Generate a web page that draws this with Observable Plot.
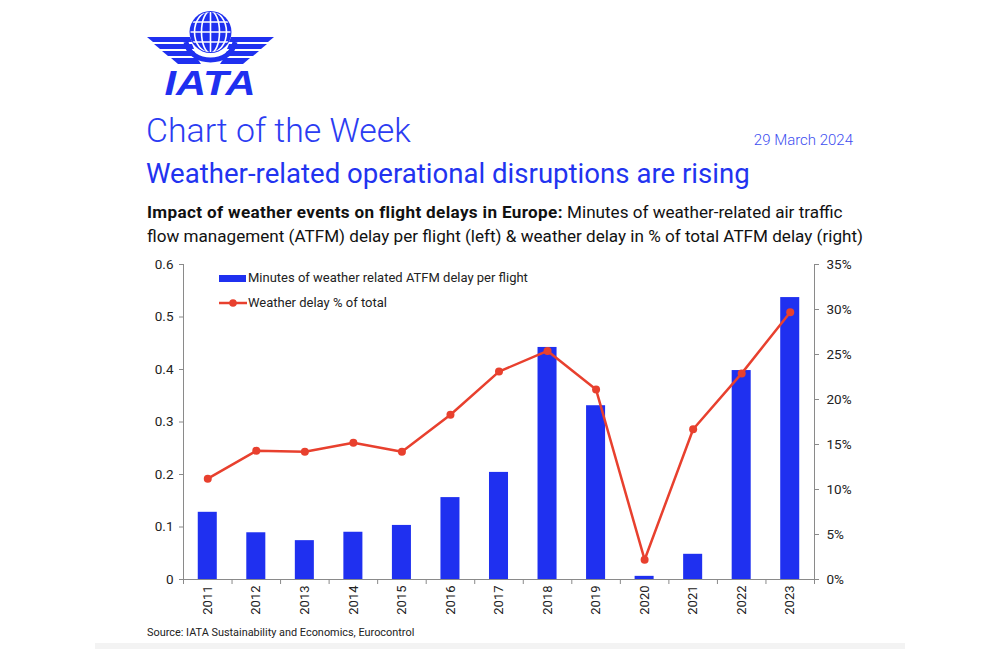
<!DOCTYPE html>
<html>
<head>
<meta charset="utf-8">
<script src="https://cdn.jsdelivr.net/npm/d3@7"></script>
<script src="https://cdn.jsdelivr.net/npm/@observablehq/plot@0.6"></script>
<style>
  html, body { margin: 0; padding: 0; background: #fff; }
  body { width: 1000px; height: 649px; position: relative; overflow: hidden; font-family: Roboto, "Noto Sans", sans-serif; }
  .abs { position: absolute; white-space: nowrap; }
  #cotw { left: 146px; top: 110px; font-size: 33.8px; font-weight: 300; color: #2b3cf2; line-height: 42px; }
  #date { right: 147px; top: 130px; font-size: 15px; font-weight: 300; color: #3d4ef0; line-height: 20px; }
  #title { left: 146px; top: 156px; font-size: 27.6px; font-weight: 400; color: #2233f0; line-height: 36px; }
  #sub { left: 147px; top: 200px; font-size: 17.1px; color: #111; line-height: 24px; }
  #sub b { font-weight: 700; letter-spacing: 0.35px; }
  #chart { position: absolute; left: 0; top: 255px; }
  .leg { font-size: 13px; color: #222; line-height: 16px; }
  #source { left: 147px; top: 626px; font-size: 10.9px; color: #222; }
  #strip { position: absolute; left: 95px; top: 643px; width: 810px; height: 6px; background: #f3f3f3; }
</style>
</head>
<body>
<svg class="abs" style="left:0;top:0" width="300" height="110" viewBox="0 0 300 110">
  <defs>
    <clipPath id="gc"><circle cx="210.5" cy="32" r="20"/></clipPath>
  </defs>
  <circle cx="210.5" cy="32" r="21" fill="#1f30f0"/>
  <g clip-path="url(#gc)" stroke="#fff" stroke-width="1.6" fill="none">
    <line x1="210.5" y1="10" x2="210.5" y2="54"/>
    <ellipse cx="210.5" cy="32" rx="9" ry="21"/>
    <ellipse cx="210.5" cy="32" rx="16" ry="21"/>
    <line x1="188" y1="22" x2="233" y2="22"/>
    <line x1="188" y1="32" x2="233" y2="32"/>
    <line x1="188" y1="42" x2="233" y2="42"/>
  </g>
  <path d="M186,42 C190,66 231,66 235,42" stroke="#1f30f0" stroke-width="5" fill="none"/>
  <g fill="#1f30f0">
    <polygon points="147,37 190,37 192,42 153,42"/>
    <polygon points="154,44 192,44 194,49 160,49"/>
    <polygon points="162,51 194,51 197,56 168,56"/>
    <polygon points="171,58 197,58 201,64 178,64"/>
  </g>
  <g transform="translate(421,0) scale(-1,1)" fill="#1f30f0">
    <polygon points="147,37 190,37 192,42 153,42"/>
    <polygon points="154,44 192,44 194,49 160,49"/>
    <polygon points="162,51 194,51 197,56 168,56"/>
    <polygon points="171,58 197,58 201,64 178,64"/>
  </g>
  <text x="210" y="95" text-anchor="middle" font-family="'Liberation Sans', Arial, sans-serif" font-weight="700" font-style="italic" font-size="35" fill="#1f30f0" textLength="91" lengthAdjust="spacingAndGlyphs">IATA</text>
</svg>

<div id="cotw" class="abs">Chart of the Week</div>
<div id="date" class="abs">29 March 2024</div>
<div id="title" class="abs">Weather-related operational disruptions are rising</div>
<div id="sub" class="abs"><b>Impact of weather events on flight delays in Europe:</b> Minutes of weather-related air traffic<br>flow management (ATFM) delay per flight (left) &amp; weather delay in % of total ATFM delay (right)</div>

<div id="chart"></div>

<div class="abs" style="left:219px;top:275px;width:27px;height:7px;background:#1f30f0"></div>
<div class="abs leg" style="left:248px;top:270px">Minutes of weather related ATFM delay per flight</div>
<svg class="abs" style="left:218px;top:298px" width="30" height="10"><line x1="1" y1="5" x2="29" y2="5" stroke="#e8402e" stroke-width="2.5"/><circle cx="15" cy="5" r="3.8" fill="#e8402e"/></svg>
<div class="abs leg" style="left:248px;top:295px">Weather delay % of total</div>

<div id="source" class="abs">Source: IATA Sustainability and Economics, Eurocontrol</div>
<div id="strip"></div>

<script>
const years = [2011, 2012, 2013, 2014, 2015, 2016, 2017, 2018, 2019, 2020, 2021, 2022, 2023];
const minutesPerFlight = [0.128, 0.089, 0.074, 0.090, 0.103, 0.156, 0.204, 0.442, 0.331, 0.006, 0.048, 0.398, 0.537];
const weatherPctOfTotal = [11.2, 14.3, 14.2, 15.2, 14.2, 18.3, 23.1, 25.4, 21.1, 2.2, 16.7, 22.9, 29.7];
const leftTicks = [0, 0.1, 0.2, 0.3, 0.4, 0.5, 0.6];
const rightTicks = [0, 5, 10, 15, 20, 25, 30, 35];

const blue = "#1f30f0";
const red = "#e8402e";
const leftMax = 0.6, rightMax = 35;
const toLeft = p => p / rightMax * leftMax;
const halfBar = 0.196;

const data = years.map((y, i) => ({ year: y, minutes: minutesPerFlight[i], pct: weatherPctOfTotal[i] }));
const xDomain = [years[0] - 0.5, years[years.length - 1] + 0.5];
const boundaries = d3.range(xDomain[0], xDomain[1] + 0.01, 1);

const chart = Plot.plot({
  width: 1000,
  height: 360,
  marginTop: 9,
  marginBottom: 36,
  marginLeft: 183,
  marginRight: 186,
  style: { fontFamily: "Roboto, sans-serif", fontSize: "13px", color: "#222", background: "transparent", overflow: "visible" },
  x: { domain: xDomain },
  y: { domain: [0, leftMax] },
  marks: [
    Plot.rectY(data, { x1: d => d.year - halfBar, x2: d => d.year + halfBar, y: "minutes", fill: blue }),
    Plot.ruleX([xDomain[0], xDomain[1]], { y1: 0, y2: leftMax, stroke: "#8a8a8a", strokeWidth: 1 }),
    Plot.ruleY([0], { stroke: "#8a8a8a", strokeWidth: 1, x1: xDomain[0], x2: xDomain[1] }),
    Plot.axisY({ anchor: "left", ticks: leftTicks, tickFormat: d => d === 0 ? "0" : d.toFixed(1), tickSize: 4, tickPadding: 6, stroke: "#8a8a8a", label: null, fontSize: 13.5 }),
    Plot.axisY({ anchor: "right", ticks: rightTicks.map(toLeft), tickFormat: d => Math.round(d / leftMax * rightMax) + "%", tickSize: 4, tickPadding: 8, stroke: "#8a8a8a", label: null, fontSize: 13.5 }),
    Plot.axisX({ ticks: boundaries, tickFormat: () => "", tickSize: 5, stroke: "#8a8a8a", label: null }),
    Plot.axisX({ ticks: years, tickFormat: d => String(d), tickSize: 0, tickPadding: 6, tickRotate: -90, label: null, fontSize: 13 }),
    Plot.line(data, { x: "year", y: d => toLeft(d.pct), stroke: red, strokeWidth: 2.5 }),
    Plot.dot(data, { x: "year", y: d => toLeft(d.pct), r: 4, fill: red })
  ]
});
document.getElementById("chart").appendChild(chart);
</script>
</body>
</html>
